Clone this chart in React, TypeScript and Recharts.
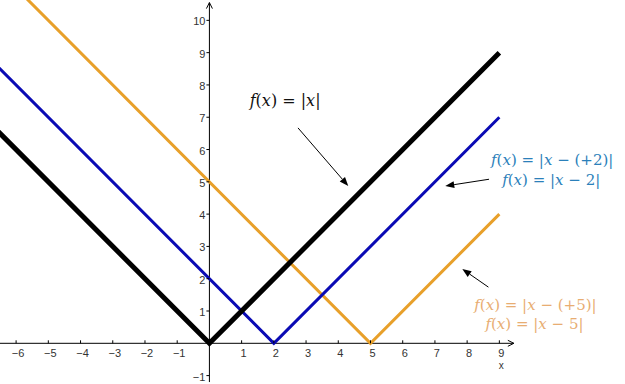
import { LineChart, Line, XAxis, YAxis, ReferenceLine, ReferenceDot } from 'recharts'

// x positions of each polyline's corners and the matching y values
const xsAbs = [-7, 0, 9]
const ysAbs = [7, 0, 9]
const xsMinus2 = [-7, 2, 9]
const ysMinus2 = [9, 0, 7]
const xsMinus5 = [-7, 5, 9]
const ysMinus5 = [12, 0, 4]

const xTicks = [-6, -5, -4, -3, -2, -1, 1, 2, 3, 4, 5, 6, 7, 8, 9]
const yTicks = [-1, 1, 2, 3, 4, 5, 6, 7, 8, 9, 10]

const toPoints = (xs: number[], ys: number[]) => xs.map((x, i) => ({ x, y: ys[i] }))

const AXIS_FONT = '"Liberation Sans", Arial, sans-serif'
const MATH_FONT = '"DejaVu Serif", "Liberation Serif", serif'
const fmt = (v: number) => (v < 0 ? `−${Math.abs(v)}` : `${v}`)

const XTick = ({ cx, cy, value }: any) => (
  <g>
    <line x1={cx} y1={cy - 3} x2={cx} y2={cy} stroke="#000" strokeWidth={1} />
    <text x={cx + 2} y={cy + 14} textAnchor="middle" fontSize={11} fill="#333" fontFamily={AXIS_FONT}>
      {fmt(value)}
    </text>
  </g>
)

const YTick = ({ cx, cy, value }: any) => (
  <g>
    <line x1={cx - 3} y1={cy} x2={cx} y2={cy} stroke="#000" strokeWidth={1} />
    <text x={cx - 4} y={cy + 5} textAnchor="end" fontSize={11} fill="#333" fontFamily={AXIS_FONT}>
      {fmt(value)}
    </text>
  </g>
)

const Arrow = ({ x1, y1, x2, y2 }: any) => {
  const a = Math.atan2(y2 - y1, x2 - x1)
  const len = 9
  const w = 3.5
  const bx = x2 - len * Math.cos(a)
  const by = y2 - len * Math.sin(a)
  const px = -Math.sin(a) * w
  const py = Math.cos(a) * w
  return (
    <g>
      <line x1={x1} y1={y1} x2={bx} y2={by} stroke="#000" strokeWidth={1} />
      <polygon points={`${x2},${y2} ${bx + px},${by + py} ${bx - px},${by - py}`} fill="#000" />
    </g>
  )
}

const AxisLine = ({ x1, y1, x2, y2 }: any) => {
  const a = Math.atan2(y2 - y1, x2 - x1)
  const len = 6
  const w = 3
  const bx = x2 - len * Math.cos(a)
  const by = y2 - len * Math.sin(a)
  const px = -Math.sin(a) * w
  const py = Math.cos(a) * w
  return (
    <g>
      <line x1={x1} y1={y1} x2={x2} y2={y2} stroke="#000" strokeWidth={1} />
      <polyline points={`${bx + px},${by + py} ${x2},${y2} ${bx - px},${by - py}`} fill="none" stroke="#000" strokeWidth={1} />
    </g>
  )
}

const I = ({ children }: any) => <tspan fontStyle="italic">{children}</tspan>

const MathLabel = ({ cx, cy, color, shift, size = 15 }: any) => (
  <text x={cx} y={cy + size * 0.35} textAnchor="middle" fontSize={size} fill={color} fontFamily={MATH_FONT}>
    <I>f</I>(<I>x</I>) = |<I>x</I>{shift}|
  </text>
)

export default function App() {
  return (
    <div style={{ position: 'absolute', left: 0, top: 0, background: '#fff' }}>
      <LineChart width={625} height={384} margin={{ top: 0, right: 0, bottom: 0, left: 0 }}>
        <XAxis type="number" dataKey="x" domain={[-6.5, 12.9]} allowDataOverflow hide />
        <YAxis type="number" dataKey="y" domain={[-1.26, 10.63]} allowDataOverflow hide />

        <ReferenceLine segment={[{ x: -6.5, y: 0 }, { x: 9.45, y: 0 }]} shape={<AxisLine />} />
        <ReferenceLine segment={[{ x: 0, y: -1.2 }, { x: 0, y: 10.55 }]} shape={<AxisLine />} />

        <Line data={toPoints(xsMinus5, ysMinus5)} dataKey="y" type="linear" stroke="#e8a02a" strokeWidth={3} dot={false} activeDot={false} isAnimationActive={false} />
        <Line data={toPoints(xsMinus2, ysMinus2)} dataKey="y" type="linear" stroke="#0a0ab4" strokeWidth={3} dot={false} activeDot={false} isAnimationActive={false} />
        <Line data={toPoints(xsAbs, ysAbs)} dataKey="y" type="linear" stroke="#000" strokeWidth={5} dot={false} activeDot={false} isAnimationActive={false} />

        {xTicks.map((t) => (
          <ReferenceDot key={`x${t}`} x={t} y={0} shape={(p: any) => <XTick {...p} value={t} />} />
        ))}
        {yTicks.map((t) => (
          <ReferenceDot key={`y${t}`} x={0} y={t} shape={(p: any) => <YTick {...p} value={t} />} />
        ))}
        <ReferenceDot
          x={9}
          y={0}
          shape={(p: any) => (
            <text x={p.cx + 2} y={p.cy + 26} textAnchor="middle" fontSize={10} fill="#333" fontFamily={AXIS_FONT}>
              x
            </text>
          )}
        />

        <ReferenceLine segment={[{ x: 2.75, y: 6.67 }, { x: 4.31, y: 4.87 }]} shape={<Arrow />} />
        <ReferenceLine segment={[{ x: 8.68, y: 5.08 }, { x: 7.32, y: 4.87 }]} shape={<Arrow />} />
        <ReferenceLine segment={[{ x: 8.66, y: 1.74 }, { x: 7.85, y: 2.3 }]} shape={<Arrow />} />

        <ReferenceDot x={2.35} y={7.53} shape={(p: any) => <MathLabel {...p} color="#111" shift="" size={16} />} />
        <ReferenceDot x={10.64} y={5.67} shape={(p: any) => <MathLabel {...p} color="#2b80ba" shift=" − (+2)" />} />
        <ReferenceDot x={10.61} y={5.06} shape={(p: any) => <MathLabel {...p} color="#2b80ba" shift=" − 2" />} />
        <ReferenceDot x={10.12} y={1.18} shape={(p: any) => <MathLabel {...p} color="#e8ad72" shift=" − (+5)" />} />
        <ReferenceDot x={10.09} y={0.62} shape={(p: any) => <MathLabel {...p} color="#e8ad72" shift=" − 5" />} />
      </LineChart>
    </div>
  )
}
